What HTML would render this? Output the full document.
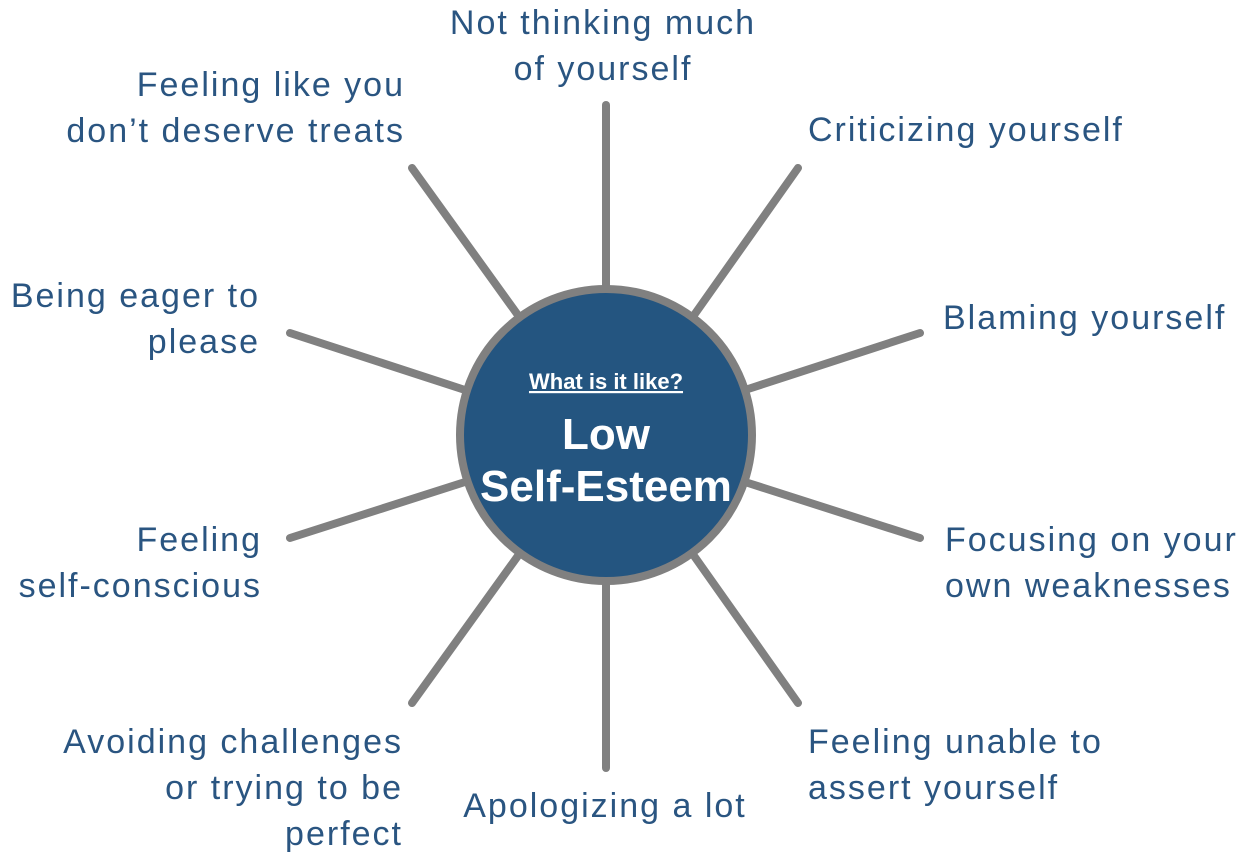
<!DOCTYPE html>
<html><head><meta charset="utf-8"><style>
body{margin:0;width:1240px;height:863px;background:#fff;position:relative;overflow:hidden;font-family:"Liberation Sans",sans-serif;}
.t{position:absolute;color:#2a5581;font-size:34px;line-height:46px;white-space:nowrap;letter-spacing:2px;}
.r{text-align:right}.c{text-align:center}
</style></head><body>
<svg width="1240" height="863" style="position:absolute;left:0;top:0">
<g stroke="#808080" stroke-width="8" stroke-linecap="round">
<line x1="606" y1="105" x2="606" y2="290"/>
<line x1="606" y1="580" x2="606" y2="768"/>
<line x1="412" y1="168" x2="520" y2="318"/>
<line x1="798" y1="168" x2="692" y2="318"/>
<line x1="412" y1="703" x2="520" y2="553"/>
<line x1="798" y1="703" x2="692" y2="553"/>
<line x1="290" y1="333" x2="465" y2="390"/>
<line x1="920" y1="333" x2="745" y2="390"/>
<line x1="290" y1="538" x2="465" y2="482"/>
<line x1="920" y1="538" x2="745" y2="482"/>
</g>
<circle cx="606" cy="435" r="146" fill="#245580" stroke="#808080" stroke-width="8"/>
<text x="606" y="389" fill="#fff" font-family="Liberation Sans" font-weight="bold" font-size="22" text-anchor="middle" text-decoration="underline">What is it like?</text>
<text x="606" y="449" fill="#fff" font-family="Liberation Sans" font-weight="bold" font-size="44" text-anchor="middle">Low</text>
<text x="606" y="501" fill="#fff" font-family="Liberation Sans" font-weight="bold" font-size="44" text-anchor="middle">Self-Esteem</text>
</svg>
<div class="t c" style="left:403px;width:400px;top:0px">Not thinking much<br>of yourself</div>
<div class="t r" style="left:0;width:405px;top:62px">Feeling like you<br>don’t deserve treats</div>
<div class="t" style="left:808px;top:107px">Criticizing yourself</div>
<div class="t r" style="left:0;width:260px;top:273px">Being eager to<br>please</div>
<div class="t" style="left:943px;top:295px">Blaming yourself</div>
<div class="t r" style="left:0;width:262px;top:517px">Feeling<br>self-conscious</div>
<div class="t" style="left:945px;top:517px">Focusing on your<br>own weaknesses</div>
<div class="t r" style="left:0;width:403px;top:719px">Avoiding challenges<br>or trying to be<br>perfect</div>
<div class="t c" style="left:405px;width:400px;top:783px">Apologizing a lot</div>
<div class="t" style="left:808px;top:719px">Feeling unable to<br>assert yourself</div>
</body></html>
